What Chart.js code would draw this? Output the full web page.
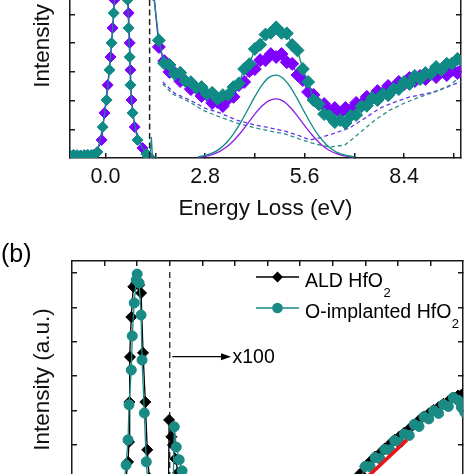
<!doctype html>
<html lang="en">
<head>
<meta charset="utf-8">
<title>Low-loss EELS of HfO2</title>
<style>
  * { margin: 0; padding: 0; }
  body { width: 474px; height: 474px; overflow: hidden; background: #fff; position: relative; }
  #chartA { position: absolute; left: 0; top: -150px; }
  #chartB { position: absolute; left: 0; top: 230px; }
</style>
</head>
<body>
<canvas id="chartA" width="474" height="372"></canvas>
<canvas id="chartB" width="474" height="332"></canvas>
<script src="https://cdn.jsdelivr.net/npm/chart.js/dist/chart.umd.min.js"></script>
<script>
// ---------- panel (a) data : energy (eV) / intensity (arb.) ----------
const aTicksX = [0, 1.4, 2.8, 4.2, 5.6, 7.0, 8.4, 9.8];
const aLabelsX = [0, 2.8, 5.6, 8.4];
const aTicksY = [1, 2, 3, 4, 5, 6, 7, 8, 9];

// zero-loss peak
const peakEPurple = [-1.0, -0.9, -0.8, -0.7, -0.6, -0.5, -0.4, -0.34, -0.28, -0.11, -0.03, 0.06, 0.14, 0.20, 0.25, 0.31, 0.44, 0.59, 0.65, 0.68, 0.70, 0.73, 0.82, 1.04, 1.21];
const peakVPurple = [0.08, 0.09, 0.07, 0.08, 0.09, 0.08, 0.09, 0.10, 0.14, 0.63, 1.57, 2.54, 3.52, 4.53, 5.51, 6.5, 55, 6.5, 5.05, 4.01, 3.07, 2.02, 1.08, 0.35, 0.07];
const peakETeal = [-1.0, -0.9, -0.8, -0.7, -0.6, -0.5, -0.4, -0.31, -0.23, -0.08, 0.03, 0.11, 0.17, 0.23, 0.28, 0.42, 0.56, 0.62, 0.65, 0.68, 0.70, 0.76, 0.90, 1.15, 1.2];
const peakVTeal = [0.10, 0.11, 0.10, 0.09, 0.10, 0.11, 0.10, 0.12, 0.21, 1.08, 2.02, 3.07, 4.01, 5.05, 6.2, 60, 6.2, 5.51, 4.53, 3.52, 2.54, 1.57, 0.63, 0.14, 0.05];
const spikeE = [1.18, 1.26, 1.29, 1.32, 1.45];
const spikeV = [0.03, 0.08, 0.73, 0.06, 0.02];

// loss region (x100)
const lossE = [1.35, 1.5, 1.65, 1.8, 1.95, 2.1, 2.25, 2.4, 2.55, 2.7, 2.85, 3.0, 3.15, 3.3, 3.45, 3.6, 3.75, 3.9, 4.05, 4.2,
  4.35, 4.5, 4.65, 4.8, 4.95, 5.1, 5.25, 5.4, 5.55, 5.7, 5.85, 6.0, 6.15, 6.3, 6.45, 6.6, 6.75, 6.9, 7.05, 7.2,
  7.35, 7.5, 7.65, 7.8, 7.95, 8.1, 8.25, 8.4, 8.55, 8.7, 8.85, 9.0, 9.15, 9.3, 9.45, 9.6, 9.75, 9.9, 10.05];
const lossTeal = [5.7, 4.1, 3.3, 3.24, 2.93, 2.97, 2.68, 2.64, 2.45, 2.47, 2.23, 2.27, 2.06, 2.19, 2.2, 2.47, 2.6, 3.1, 3.27, 3.8,
  3.95, 4.3, 4.36, 4.55, 4.36, 4.34, 3.94, 3.75, 3.1, 2.65, 2.02, 1.88, 1.53, 1.47, 1.25, 1.32, 1.22, 1.47, 1.5, 1.8,
  1.82, 2.09, 2.02, 2.23, 2.19, 2.4, 2.4, 2.65, 2.58, 2.86, 2.75, 2.96, 2.93, 3.17, 3.07, 3.28, 3.29, 3.45, 3.38];
const lossPurple = [5.85, 3.87, 3.38, 3.0, 2.96, 2.68, 2.68, 2.4, 2.44, 2.16, 2.2, 1.92, 1.95, 1.81, 2.06, 2.13, 2.54, 2.65, 3.03, 3.1,
  3.41, 3.41, 3.62, 3.52, 3.62, 3.34, 3.28, 2.89, 2.72, 2.3, 2.2, 1.88, 1.88, 1.64, 1.74, 1.57, 1.74, 1.67, 1.92, 1.88,
  2.13, 2.09, 2.33, 2.26, 2.51, 2.44, 2.65, 2.58, 2.79, 2.68, 2.86, 2.75, 2.93, 2.82, 3.0, 2.89, 3.07, 2.96, 3.1];

// fitted plasmon peaks
const gaussE = [2.6, 2.8, 3.0, 3.2, 3.4, 3.6, 3.8, 4.0, 4.2, 4.4, 4.6, 4.8, 5.0, 5.2, 5.4, 5.6, 5.8, 6.0, 6.2, 6.4, 6.6, 6.8, 7.0];
const gaussTeal = [0.04, 0.09, 0.17, 0.31, 0.53, 0.84, 1.23, 1.68, 2.14, 2.54, 2.81, 2.89, 2.77, 2.47, 2.05, 1.59, 1.15, 0.77, 0.48, 0.28, 0.15, 0.08, 0.04];
const gaussPurple = [0.03, 0.06, 0.12, 0.22, 0.38, 0.60, 0.88, 1.20, 1.53, 1.81, 2.00, 2.06, 1.98, 1.76, 1.46, 1.13, 0.82, 0.55, 0.34, 0.20, 0.11, 0.06, 0.03];

// backgrounds (dashed)
const bgTealE = [1.61, 1.89, 2.37, 2.73, 3.21, 3.69, 4.2, 4.62, 5.04, 5.46, 5.89, 6.31, 6.73, 7.15, 7.58, 8.0, 8.42, 8.85, 9.27, 9.69, 10.0];
const bgTealV = [2.58, 2.23, 1.95, 1.67, 1.43, 1.22, 1.05, 0.94, 0.84, 0.66, 0.49, 0.38, 0.45, 0.87, 1.32, 1.67, 1.92, 2.13, 2.30, 2.54, 2.86];
const bgPurpleE = [1.61, 1.94, 2.37, 2.79, 3.21, 3.69, 4.2, 4.62, 5.04, 5.46, 5.75, 6.03, 6.45, 6.87, 7.3, 7.72, 8.14, 8.56, 8.99, 9.41, 9.83, 10.0];
const bgPurpleV = [2.65, 2.26, 2.02, 1.74, 1.57, 1.32, 1.15, 1.05, 0.94, 0.77, 0.63, 0.70, 0.87, 1.05, 1.39, 1.74, 1.95, 2.13, 2.23, 2.37, 2.58, 2.65];

const cutAE = [1.24, 1.24];
const cutAV = [0, 9.86];

// ---------- panel (b) data ----------
const bTicksX = [-1, 0, 1, 2, 3, 4, 5, 6, 7, 8, 9];
const bTicksY = [0, 1, 2, 3, 4, 5, 6];

const aldPeakE = [-1.5, -0.6, -0.37, -0.28, -0.25, -0.24, -0.22, -0.18, -0.12, -0.03, 0.06, 0.12, 0.18, 0.25, 0.31, 0.37, 0.46, 0.7];
const aldPeakV = [-0.45, -0.45, -0.16, 0.51, 1.09, 2.25, 3.56, 4.72, 5.6, 5.71, 5.65, 5.42, 3.68, 2.25, 0.86, 0.04, -0.36, -0.45];
const aldTailE = [0.96, 0.98, 1.05, 1.1, 1.17, 1.26, 1.4, 2.5, 4.0, 5.5, 6.4];
const aldTailV = [-0.45, 1.73, 1.24, 1.0, 0.6, 0.2, -0.3, -0.45, -0.45, -0.45, -0.5];

const oxPeakE = [-1.5, -0.6, -0.43, -0.34, -0.28, -0.25, -0.18, -0.15, -0.09, -0.03, 0.0, 0.06, 0.12, 0.15, 0.22, 0.28, 0.34, 0.6];
const oxPeakV = [-0.45, -0.45, -0.36, 0.42, 1.15, 2.17, 3.18, 4.17, 5.13, 5.8, 5.97, 5.71, 4.78, 3.47, 1.93, 0.51, -0.3, -0.45];
const oxTailE = [1.1, 1.14, 1.2, 1.29, 1.38, 1.52, 2.5, 4.0, 5.5, 6.4];
const oxTailV = [-0.45, 1.53, 0.94, 0.57, 0.25, -0.2, -0.45, -0.45, -0.45, -0.55];

const edgeE = [6.55, 6.7, 6.85, 7.0, 7.15, 7.3, 7.45, 7.6, 7.75, 7.9, 8.05, 8.2, 8.35, 8.5, 8.65, 8.8, 8.95, 9.1, 9.25, 9.4, 9.55, 9.7, 9.85, 9.95, 10.05];
const aldEdgeV = [-0.3, -0.06, 0.17, 0.38, 0.52, 0.66, 0.76, 0.9, 1.02, 1.15, 1.25, 1.36, 1.47, 1.6, 1.72, 1.83, 1.92, 2.02, 2.1, 2.2, 2.28, 2.38, 2.44, 2.46, 2.45];
const oxEdgeV = [-0.38, -0.08, 0.0, 0.38, 0.37, 0.64, 0.6, 0.87, 0.86, 1.13, 1.07, 1.32, 1.28, 1.6, 1.54, 1.82, 1.76, 2.0, 1.92, 2.18, 2.12, 2.38, 2.3, 2.1, 1.95];

const fitE = [6.37, 8.28];
const fitV = [-0.55, 1.15];
const cutBE = [1.0, 1.0];
const cutBV = [-0.54, 6.1];
const arrowE = [1.08, 2.88];
const arrowV = [3.57, 3.57];
const arrowText = 'x100';

const legendItems = [
  { text: 'ALD HfO', sub: '2', color: '#000000', shape: 'diamond' },
  { text: 'O-implanted HfO', sub: '2', color: '#1a8a85', shape: 'circle' }
];

// ---------- styling ----------
const PURPLE = '#7f00ff';
const TEAL = '#0f8a85';
const FAM = "'Liberation Sans', Arial, sans-serif";
Chart.defaults.font.family = FAM;
Chart.defaults.color = '#000';

const pts = (xs, ys) => xs.map((x, i) => ({ x, y: ys[i] }));
const frame = { display: true, color: '#1a1a1a', width: 1.5 };
const inward = { drawOnChartArea: false, drawTicks: true, tickLength: -5, color: '#1a1a1a', lineWidth: 1.5 };

function plainAxis(position, min, max, tickVals, size) {
  return {
    type: 'linear', position, min, max,
    border: frame, grid: inward,
    ticks: { display: false },
    afterBuildTicks: s => { s.ticks = tickVals.map(value => ({ value })); },
    afterFit: s => { if (s.isHorizontal()) s.height = size; else s.width = size; }
  };
}

function marks(data, color, style, radius, order) {
  return {
    data, showLine: true, borderColor: color, borderWidth: 1.3,
    pointStyle: style, pointRadius: radius, pointBackgroundColor: color,
    pointBorderColor: color, pointBorderWidth: 1, order, clip: 0
  };
}
function line(data, color, width, dash, order, smooth) {
  return {
    data, showLine: true, borderColor: color, borderWidth: width, borderDash: dash,
    pointRadius: 0, order, clip: 0, cubicInterpolationMode: smooth ? 'monotone' : 'default'
  };
}

// ---------- panel (a) ----------
new Chart(document.getElementById('chartA'), {
  type: 'scatter',
  data: {
    datasets: [
      line(pts(cutAE, cutAV), '#222', 1.5, [6, 3.5], 0),
      marks(pts(peakETeal, peakVTeal), TEAL, 'rectRot', 5.5, 1),
      marks(pts(lossE, lossTeal), TEAL, 'rectRot', 6.5, 1),
      line(pts(spikeE, spikeV), TEAL, 1.2, [], 1),
      marks(pts(peakEPurple, peakVPurple), PURPLE, 'rectRot', 5.5, 2),
      marks(pts(lossE, lossPurple), PURPLE, 'rectRot', 6.5, 2),
      line(pts(gaussE, gaussTeal), TEAL, 1.3, [], 3, true),
      line(pts(gaussE, gaussPurple), '#8a1ee8', 1.3, [], 4, true),
      line(pts(bgTealE, bgTealV), '#2a8f8a', 1.3, [4, 3], 4),
      line(pts(bgPurpleE, bgPurpleV), '#6236ee', 1.3, [4, 3], 5)
    ]
  },
  options: {
    responsive: false, animation: false,
    layout: { padding: { top: 25, right: 13, bottom: 0, left: 0 } },
    plugins: { legend: { display: false }, tooltip: { enabled: false } },
    scales: {
      x: {
        type: 'linear', position: 'bottom', min: -1, max: 10,
        border: frame, grid: inward,
        ticks: {
          font: { size: 21.5 }, padding: 11, maxRotation: 0, autoSkip: false, color: '#111',
          callback: v => aLabelsX.some(l => Math.abs(l - v) < 1e-6) ? v.toFixed(1) : ''
        },
        title: { display: true, text: 'Energy Loss (eV)', font: { size: 22.5 }, padding: 0, color: '#111' },
        afterBuildTicks: s => { s.ticks = aTicksX.map(value => ({ value })); },
        afterFit: s => { s.height = 64; }
      },
      x2: plainAxis('top', -1, 10, aTicksX, 0),
      y: {
        type: 'linear', position: 'left', min: 0, max: 9.86,
        border: frame, grid: inward,
        ticks: { display: false },
        title: { display: true, text: 'Intensity (a.u.)', font: { size: 22.5 }, padding: { top: 29, bottom: 0 }, color: '#111' },
        afterBuildTicks: s => { s.ticks = aTicksY.map(value => ({ value })); },
        afterFit: s => { s.width = 70; }
      },
      y2: plainAxis('right', 0, 9.86, aTicksY, 0)
    }
  }
});

// ---------- panel (b) ----------
const overlayB = {
  id: 'overlayB',
  afterDatasetsDraw(chart) {
    const { ctx, chartArea: ca, scales } = chart;
    ctx.save();
    ctx.fillStyle = '#000';
    ctx.font = '25px ' + FAM;
    ctx.textBaseline = 'alphabetic';
    ctx.fillText('(b)', 1, 32);

    const ax0 = scales.x.getPixelForValue(arrowE[0]);
    const ax1 = scales.x.getPixelForValue(arrowE[1]);
    const ay = scales.y.getPixelForValue(arrowV[0]);
    ctx.strokeStyle = '#000';
    ctx.lineWidth = 1.2;
    ctx.beginPath(); ctx.moveTo(ax0, ay); ctx.lineTo(ax1 - 6, ay); ctx.stroke();
    ctx.beginPath(); ctx.moveTo(ax1, ay); ctx.lineTo(ax1 - 10, ay - 3.5); ctx.lineTo(ax1 - 10, ay + 3.5); ctx.closePath(); ctx.fill();
    ctx.font = '19.5px ' + FAM;
    ctx.fillText(arrowText, ax1 + 1.5, ay + 6.5);

    legendItems.forEach((it, i) => {
      const ly = ca.top + 16 + i * 31;
      const lx = ca.left + 184;
      ctx.strokeStyle = it.color;
      ctx.lineWidth = 1.5;
      ctx.beginPath(); ctx.moveTo(lx, ly); ctx.lineTo(lx + 43, ly); ctx.stroke();
      ctx.fillStyle = it.color;
      ctx.beginPath();
      if (it.shape === 'diamond') {
        ctx.moveTo(lx + 21.5, ly - 5.5); ctx.lineTo(lx + 27, ly); ctx.lineTo(lx + 21.5, ly + 5.5); ctx.lineTo(lx + 16, ly); ctx.closePath();
      } else {
        ctx.arc(lx + 21.5, ly, 5.3, 0, Math.PI * 2);
      }
      ctx.fill();
      ctx.fillStyle = '#000';
      ctx.font = '19.5px ' + FAM;
      ctx.fillText(it.text, lx + 49, ly + 10);
      const w = ctx.measureText(it.text).width;
      ctx.font = '13px ' + FAM;
      ctx.fillText(it.sub, lx + 49 + w + 0.5, ly + 20);
    });
    ctx.restore();
  }
};

new Chart(document.getElementById('chartB'), {
  type: 'scatter',
  data: {
    datasets: [
      line(pts(fitE, fitV), '#e8151b', 3.5, [], 0),
      marks(pts([...oxPeakE, ...oxTailE, ...edgeE], [...oxPeakV, ...oxTailV, ...oxEdgeV]), '#1a8a85', 'circle', 5, 1),
      marks(pts([...aldPeakE, ...aldTailE, ...edgeE], [...aldPeakV, ...aldTailV, ...aldEdgeV]), '#000', 'rectRot', 5.5, 2),
      line(pts(cutBE, cutBV), '#222', 1.3, [6, 4], 3)
    ]
  },
  options: {
    responsive: false, animation: false,
    layout: { padding: { top: 31, right: 11, bottom: 0, left: 0 } },
    plugins: { legend: { display: false }, tooltip: { enabled: false } },
    scales: {
      x: {
        type: 'linear', position: 'bottom', min: -2, max: 10,
        border: frame, grid: inward,
        ticks: { font: { size: 21.5 }, padding: 11, maxRotation: 0, autoSkip: false,
          callback: v => (v % 2 === 0 ? v.toFixed(0) : '') },
        title: { display: true, text: 'Energy Loss (eV)', font: { size: 22.5 }, padding: 0 },
        afterBuildTicks: s => { s.ticks = bTicksX.map(value => ({ value })); },
        afterFit: s => { s.height = 64; }
      },
      x2: plainAxis('top', -2, 10, bTicksX, 0),
      y: {
        type: 'linear', position: 'left', min: -0.54, max: 6.35,
        border: frame, grid: inward,
        ticks: { display: false },
        title: { display: true, text: 'Intensity (a.u.)', font: { size: 22.5 }, padding: { top: 29, bottom: 0 }, color: '#111' },
        afterBuildTicks: s => { s.ticks = bTicksY.map(value => ({ value })); },
        afterFit: s => { s.width = 72; }
      },
      y2: plainAxis('right', -0.54, 6.35, bTicksY, 0)
    }
  },
  plugins: [overlayB]
});
</script>
</body>
</html>
